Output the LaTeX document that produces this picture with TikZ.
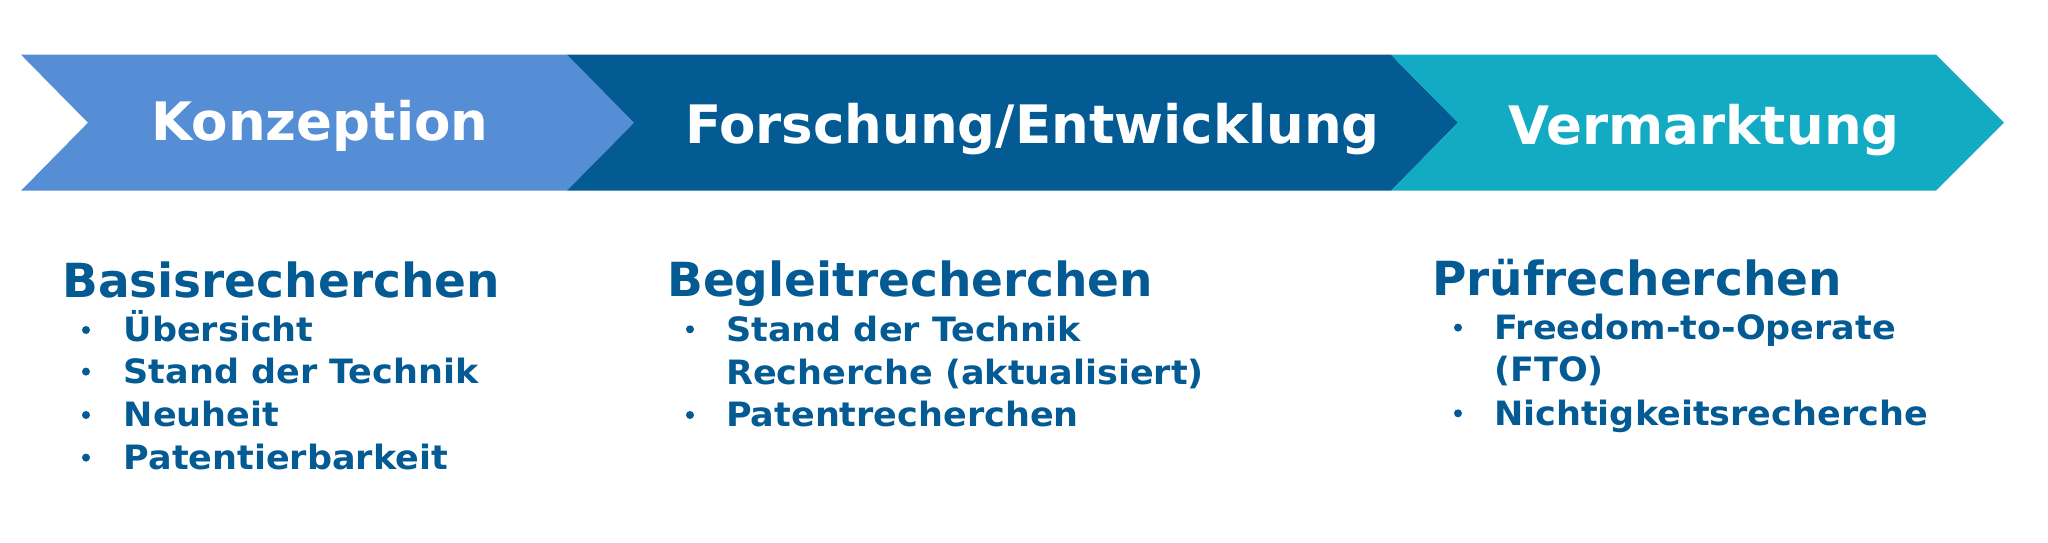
\documentclass[tikz,border=0pt]{standalone}
\usepackage{fontspec}
\setmainfont{DejaVu Sans}
\newfontfamily\itemfont{DejaVu Sans Bold}[FakeStretch=1.045]
\definecolor{cLight}{RGB}{85,142,213}
\definecolor{cDark}{RGB}{4,90,146}
\definecolor{cTeal}{RGB}{19,170,196}
\begin{document}
\begin{tikzpicture}[x=1pt,y=-1pt,
  phase/.style={text=white,font=\bfseries\fontsize{53}{60}\selectfont,anchor=base,inner sep=0pt},
  head/.style={text=cDark,font=\bfseries\fontsize{47}{54}\selectfont,anchor=base west,inner sep=0pt},
  item/.style={text=cDark,font=\itemfont\fontsize{33.5}{40}\selectfont,anchor=base west,inner sep=0pt},
  bul/.style={circle,fill=cDark,inner sep=0pt,minimum size=8pt}]
\useasboundingbox (0,0) rectangle (2048,543);
% chevrons
\fill[cLight] (21,54.7) -- (567,54.7) -- (634,122.7) -- (567,190.7) -- (21,190.7) -- (88,122.7) -- cycle;
\fill[cDark] (567,54.7) -- (1391,54.7) -- (1458,122.7) -- (1391,190.7) -- (567,190.7) -- (634,122.7) -- cycle;
\fill[cTeal] (1391,54.7) -- (1936,54.7) -- (2004,122.7) -- (1936,190.7) -- (1391,190.7) -- (1458,122.7) -- cycle;
% phase labels
\node[phase] (p1) at (320,140.7) {Konzeption};
\node[phase] (p2) at (1032.5,143) {Forschung/Entwicklung};
\node[phase] (p3) at (1704,144) {Vermarktung};
% column 1
\node[head] (h1) at (62,297.3) {Basisrecherchen};
\node[bul] (d11) at (86,330) {};
\node[item] (a11) at (123.5,341.7) {Übersicht};
\node[bul] (d12) at (86,371.6) {};
\node[item] (a12) at (123.5,383.3) {Stand der Technik};
\node[bul] (d13) at (86,415) {};
\node[item] (a13) at (123.5,426.7) {Neuheit};
\node[bul] (d14) at (86,457.6) {};
\node[item] (a14) at (123.5,469.3) {Patentierbarkeit};
% column 2
\node[head] (h2) at (667,296.7) {Begleitrecherchen};
\node[bul] (d21) at (690,329.3) {};
\node[item] (a21) at (726,341) {Stand der Technik};
\node[item] (a21b) at (726,384) {Recherche (aktualisiert)};
\node[bul] (d22) at (690,415) {};
\node[item] (a22) at (726,426.7) {Patentrecherchen};
% column 3
\node[head] (h3) at (1432,295) {Prüfrecherchen};
\node[bul] (d31) at (1458,327.6) {};
\node[item] (a31) at (1494,339.3) {Freedom-to-Operate};
\node[item] (a31b) at (1494,381.7) {(FTO)};
\node[bul] (d32) at (1458,413.3) {};
\node[item] (a32) at (1494,425) {Nichtigkeitsrecherche};
\end{tikzpicture}
\end{document}
